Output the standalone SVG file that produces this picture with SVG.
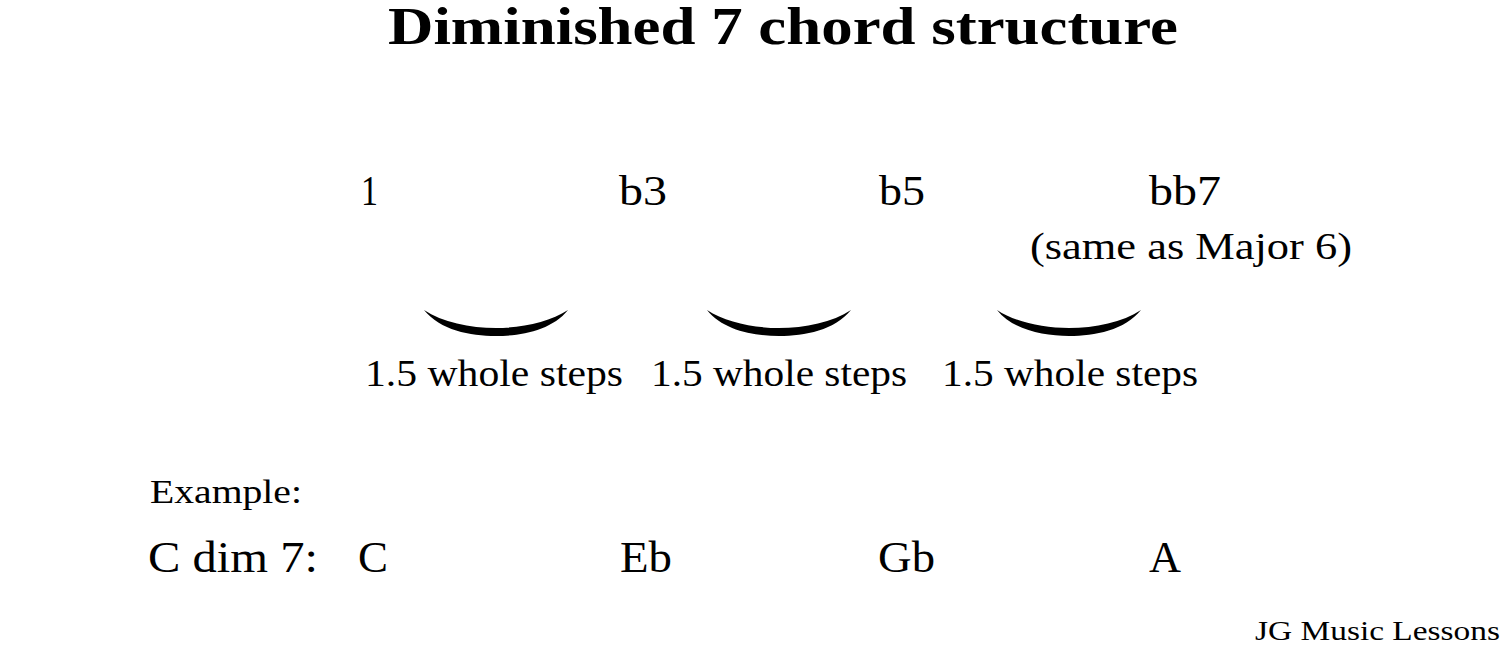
<svg xmlns="http://www.w3.org/2000/svg" width="1500" height="648" viewBox="0 0 1500 648">
<style>
text{font-family:"Liberation Serif","DejaVu Serif",serif;fill:#000}
.t{font-size:52px;font-weight:bold}
.n{font-size:43px}
.s{font-size:37px}
.e{font-size:33px}
.c{font-size:44px}
.w{font-size:28px}
.br{fill:#000;stroke:none}
</style>
<rect width="1500" height="648" fill="#fff"/>
<g id="title"><text class="t" x="388" y="44" textLength="790" lengthAdjust="spacingAndGlyphs">Diminished 7 chord structure</text></g>
<g id="n1"><text class="n" x="361" y="205" textLength="17" lengthAdjust="spacingAndGlyphs">1</text></g>
<g id="nb3"><text class="n" x="619" y="205" textLength="48" lengthAdjust="spacingAndGlyphs">b3</text></g>
<g id="nb5"><text class="n" x="879" y="205" textLength="46" lengthAdjust="spacingAndGlyphs">b5</text></g>
<g id="nbb7"><text class="n" x="1149" y="205" textLength="72" lengthAdjust="spacingAndGlyphs">bb7</text>
<text class="s" x="1030" y="259" textLength="322" lengthAdjust="spacingAndGlyphs">(same as Major 6)</text></g>
<g id="connectors">
<path class="br" d="M424,310 C440,330 470,336 496,336 C522,336 552,330 568,310 C550,322 522,328 496,328 C470,328 442,322 424,310 Z"/>
<path class="br" d="M707,310 C723,330 753,336 779,336 C805,336 835,330 851,310 C833,322 805,328 779,328 C753,328 725,322 707,310 Z"/>
<path class="br" d="M997,310 C1013,330 1043,336 1069,336 C1095,336 1125,330 1141,310 C1123,322 1095,328 1069,328 C1043,328 1015,322 997,310 Z"/>
</g>
<g id="l1"><text class="s" x="365" y="386" textLength="258" lengthAdjust="spacingAndGlyphs">1.5 whole steps</text></g>
<g id="l2"><text class="s" x="651" y="386" textLength="256" lengthAdjust="spacingAndGlyphs">1.5 whole steps</text></g>
<g id="l3"><text class="s" x="942" y="386" textLength="256" lengthAdjust="spacingAndGlyphs">1.5 whole steps</text></g>
<g id="example"><text class="e" x="150" y="503" textLength="152" lengthAdjust="spacingAndGlyphs">Example:</text></g>
<g id="cdim"><text class="c" x="148" y="572" textLength="170" lengthAdjust="spacingAndGlyphs">C dim 7:</text></g>
<g id="eC"><text class="c" x="358" y="572" textLength="30" lengthAdjust="spacingAndGlyphs">C</text></g>
<g id="eEb"><text class="c" x="620" y="572" textLength="52" lengthAdjust="spacingAndGlyphs">Eb</text></g>
<g id="eGb"><text class="c" x="878" y="572" textLength="57" lengthAdjust="spacingAndGlyphs">Gb</text></g>
<g id="eA"><text class="c" x="1149" y="572" textLength="32" lengthAdjust="spacingAndGlyphs">A</text></g>
<g id="credit"><text class="w" x="1255" y="640" textLength="245" lengthAdjust="spacingAndGlyphs">JG Music Lessons</text></g>
</svg>
